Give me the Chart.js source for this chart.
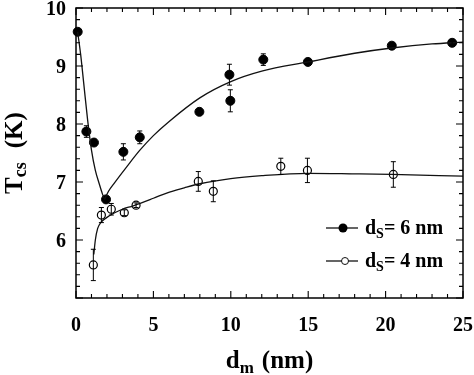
<!DOCTYPE html>
<html><head><meta charset="utf-8">
<script src="https://cdn.jsdelivr.net/npm/chart.js@4.4.1/dist/chart.umd.min.js"></script>
<style>html,body{margin:0;padding:0;background:#fff}canvas{display:block}</style>
</head><body>
<canvas id="c" width="474" height="375"></canvas>
<script>
// Tick labels
const xTicks = [0, 5, 10, 15, 20, 25];
const yTicks = [6, 7, 8, 9, 10];

// d_s = 6 nm (filled circles)
const ds6X   = [0.11, 0.67, 1.16, 1.94, 3.06, 4.12, 7.97, 9.91, 9.97, 12.1, 14.98, 20.4, 24.3];
const ds6Y   = [9.59, 7.87, 7.68, 6.70, 7.52, 7.77, 8.21, 8.85, 8.40, 9.11, 9.07, 9.35, 9.40];
const ds6Err = [0,    0.10, 0,    0,    0.14, 0.11, 0.05, 0.18, 0.19, 0.10, 0,    0,    0.04];

// d_s = 4 nm (open circles)
const ds4X   = [1.12, 1.64, 2.28, 3.12, 3.88, 7.90, 8.87, 13.23, 14.95, 20.5];
const ds4Y   = [5.57, 6.43, 6.53, 6.47, 6.60, 7.01, 6.84, 7.27, 7.20, 7.13];
const ds4Err = [0.27, 0.13, 0.10, 0.05, 0.04, 0.17, 0.18, 0.14, 0.21, 0.22];

// fitted curves
const fit6LeftX  = [0.1, 0.3, 0.5, 0.75, 1.0, 1.25, 1.5, 1.7, 1.85];
const fit6LeftY  = [9.6, 9.2, 8.7, 8.07, 7.55, 7.2, 6.97, 6.8, 6.7];
const fit6RightX = [1.85, 2.1, 2.5, 3.3, 4.1, 5, 6, 8, 10, 12, 15, 18, 20.4, 23, 25];
const fit6RightY = [6.7, 6.84, 6.99, 7.27, 7.54, 7.8, 8.04, 8.45, 8.73, 8.91, 9.07, 9.22, 9.31, 9.38, 9.41];
const fit4X = [1.15, 1.25, 1.4, 1.6, 2.0, 2.5, 3.0, 3.7, 5, 5.86, 7, 8, 10, 12, 15, 18, 20.4, 25];
const fit4Y = [5.75, 6.0, 6.2, 6.3, 6.39, 6.47, 6.53, 6.59, 6.72, 6.81, 6.9, 6.97, 7.06, 7.11, 7.15, 7.14, 7.13, 7.10];

const pts = (xs, ys) => xs.map((x, i) => ({x, y: ys[i]}));
const SERIF = '"Liberation Serif", "Times New Roman", serif';

const lineDs = (xs, ys) => ({
  data: pts(xs, ys), showLine: true, pointRadius: 0, borderColor: '#111',
  borderWidth: 1.3, cubicInterpolationMode: 'monotone', fill: false
});

const decor = {
  id: 'decor',
  afterDatasetsDraw(chart) {
    const ctx = chart.ctx, xs = chart.scales.x, ys = chart.scales.y;
    ctx.save();
    ctx.strokeStyle = '#000'; ctx.lineWidth = 1;
    const bars = (X, Y, E) => X.forEach((x, i) => {
      if (!E[i]) return;
      const px = xs.getPixelForValue(x);
      const t = ys.getPixelForValue(Y[i] + E[i]), b = ys.getPixelForValue(Y[i] - E[i]);
      ctx.beginPath();
      ctx.moveTo(px, t); ctx.lineTo(px, b);
      ctx.moveTo(px - 2.5, t); ctx.lineTo(px + 2.5, t);
      ctx.moveTo(px - 2.5, b); ctx.lineTo(px + 2.5, b);
      ctx.stroke();
    });
    bars(ds6X, ds6Y, ds6Err);
    bars(ds4X, ds4Y, ds4Err);
    ctx.restore();
  },
  afterDraw(chart) {
    const ctx = chart.ctx, xs = chart.scales.x, ys = chart.scales.y;
    const a = chart.chartArea;
    ctx.save();
    ctx.strokeStyle = '#000'; ctx.lineWidth = 1.5;
    ctx.strokeRect(a.left, a.top, a.right - a.left, a.bottom - a.top);
    ctx.lineWidth = 1.1;
    ctx.beginPath();
    for (let v = 0; v <= 25; v += 1) {
      const p = xs.getPixelForValue(v);
      const L = (v % 5 === 0) ? 7 : 4;
      ctx.moveTo(p, a.bottom); ctx.lineTo(p, a.bottom - L);
      ctx.moveTo(p, a.top); ctx.lineTo(p, a.top + L);
    }
    for (let k = 0; k <= 25; k++) {
      const v = 5 + k * 0.2;
      const p = ys.getPixelForValue(v);
      const L = (k % 5 === 0) ? 7 : 4;
      ctx.moveTo(a.left, p); ctx.lineTo(a.left + L, p);
      ctx.moveTo(a.right, p); ctx.lineTo(a.right - L, p);
    }
    ctx.stroke();

    // tick labels
    ctx.fillStyle = '#000';
    ctx.font = 'bold 20px ' + SERIF;
    ctx.textAlign = 'center'; ctx.textBaseline = 'alphabetic';
    xTicks.forEach(v => ctx.fillText(String(v), xs.getPixelForValue(v), a.bottom + 33));
    ctx.textAlign = 'right';
    yTicks.forEach(v => ctx.fillText(String(v), a.left - 10, ys.getPixelForValue(v) + 7));

    // x title: d_m (nm)
    const drawParts = (parts, cx, by) => {
      let w = 0;
      parts.forEach(p => { ctx.font = p.f; w += ctx.measureText(p.t).width + (p.g || 0); });
      let x = cx - w / 2;
      ctx.textAlign = 'left';
      parts.forEach(p => { ctx.font = p.f; ctx.fillText(p.t, x, by + (p.dy || 0)); x += ctx.measureText(p.t).width + (p.g || 0); });
    };
    const cx = (a.left + a.right) / 2;
    drawParts([
      {t: 'd', f: 'bold 25px ' + SERIF},
      {t: 'm', f: 'bold 17px ' + SERIF, dy: 5, g: 8},
      {t: '(nm)', f: 'bold 25px ' + SERIF}
    ], cx, 368);

    // y title: T_cs (K)
    ctx.save();
    ctx.translate(22, (a.top + a.bottom) / 2);
    ctx.rotate(-Math.PI / 2);
    drawParts([
      {t: 'T', f: 'bold 25px ' + SERIF},
      {t: 'cs', f: 'bold 18px ' + SERIF, dy: 4, g: 14},
      {t: '(K)', f: 'bold 25px ' + SERIF}
    ], 0, 0);
    ctx.restore();

    // legend
    const leg = (y, filled, label) => {
      ctx.lineWidth = 1.3; ctx.strokeStyle = '#111';
      ctx.beginPath(); ctx.moveTo(326, y); ctx.lineTo(358, y); ctx.stroke();
      ctx.beginPath();
      ctx.arc(filled ? 343 : 345, y, filled ? 4.5 : 3.5, 0, Math.PI * 2);
      if (filled) { ctx.fillStyle = '#000'; ctx.fill(); }
      else { ctx.fillStyle = '#fff'; ctx.fill(); ctx.lineWidth = 1; ctx.stroke(); }
      ctx.fillStyle = '#000'; ctx.textAlign = 'left';
      let x = 365;
      ctx.font = 'bold 20px ' + SERIF; ctx.fillText('d', x, y + 6); x += ctx.measureText('d').width;
      ctx.font = 'bold 14px ' + SERIF; ctx.fillText('S', x, y + 10); x += ctx.measureText('S').width;
      ctx.font = 'bold 20px ' + SERIF; ctx.fillText(label, x, y + 6);
    };
    leg(228, true, '= 6 nm');
    leg(261, false, '= 4 nm');
    ctx.restore();
  }
};

new Chart(document.getElementById('c'), {
  type: 'scatter',
  data: {
    datasets: [
      lineDs(fit6LeftX, fit6LeftY),
      lineDs(fit6RightX, fit6RightY),
      lineDs(fit4X, fit4Y),
      {label: 'ds= 6 nm', data: pts(ds6X, ds6Y), pointRadius: 4.5, pointBackgroundColor: '#000',
       pointBorderColor: '#000', pointBorderWidth: 1, clip: false},
      {label: 'ds= 4 nm', data: pts(ds4X, ds4Y), pointRadius: 4, pointBackgroundColor: '#fff',
       pointBorderColor: '#000', pointBorderWidth: 1.2, clip: false}
    ]
  },
  options: {
    responsive: false, animation: false, devicePixelRatio: 1,
    layout: {padding: {left: 0, top: 8, right: 11, bottom: 0}},
    plugins: {legend: {display: false}, tooltip: {enabled: false}},
    elements: {point: {hoverRadius: 4.5}},
    scales: {
      x: {type: 'linear', min: 0, max: 25, grid: {display: false}, border: {display: false},
          ticks: {display: false}, afterFit: s => { s.height = 77; }},
      y: {type: 'linear', min: 5, max: 10, grid: {display: false}, border: {display: false},
          ticks: {display: false}, afterFit: s => { s.width = 76; }}
    }
  },
  plugins: [decor]
});
</script>
</body></html>
